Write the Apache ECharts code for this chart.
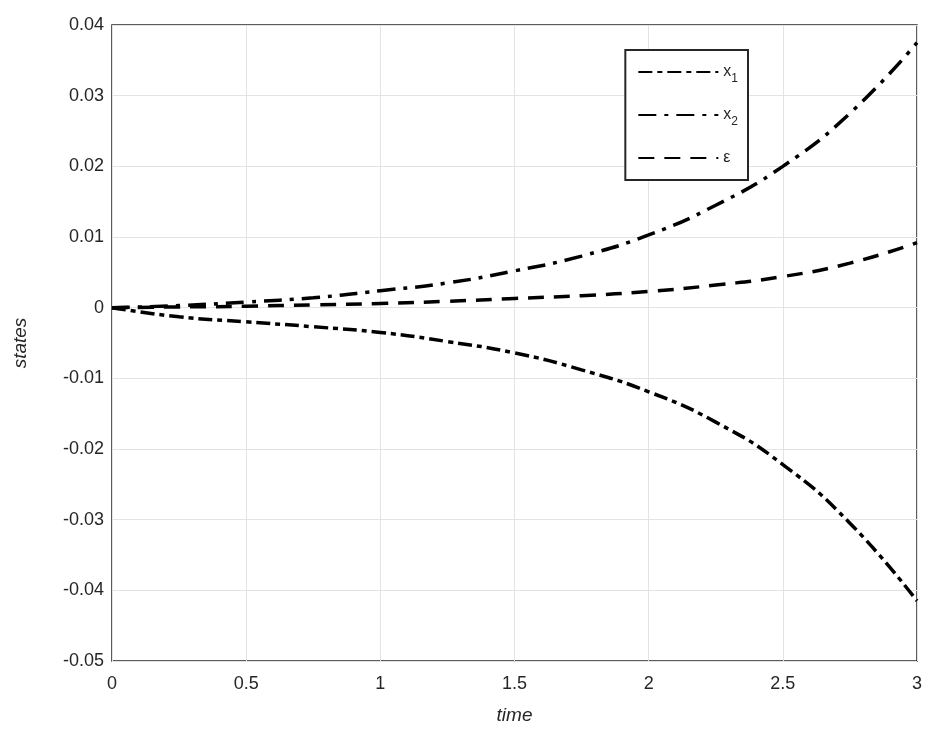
<!DOCTYPE html><html><head><meta charset="utf-8"><script src="https://cdn.jsdelivr.net/npm/echarts@6/dist/echarts.min.js"></script></head><body style="margin:0;background:#fff"><div id="c" style="width:937px;height:742px"></div><script>
const time=[0,0.25,0.5,0.75,1,1.25,1.5,1.75,2,2.25,2.5,2.75,3];
const x1=[0,-0.0013,-0.002,-0.0027,-0.0035,-0.0048,-0.0064,-0.0088,-0.0119,-0.0162,-0.0222,-0.0305,-0.0415];
const x2=[0,0.0003,0.0008,0.0014,0.0024,0.0035,0.0052,0.0073,0.0103,0.0145,0.0200,0.0275,0.0375];
const eps=[0,0.0001,0.0002,0.0004,0.0006,0.0009,0.0013,0.0017,0.0023,0.0032,0.0044,0.0063,0.0092];
const yTicks={'-0.05':'-0.05','-0.04':'-0.04','-0.03':'-0.03','-0.02':'-0.02','-0.01':'-0.01','0':'0','0.01':'0.01','0.02':'0.02','0.03':'0.03','0.04':'0.04'};
const pair=a=>time.map((t,i)=>[t,a[i]]);
const ax={color:'#262626',fontSize:18,fontFamily:'Liberation Sans, Arial'};
const mk=(name,d,dash)=>({name,type:'line',data:pair(d),smooth:true,symbol:'none',lineStyle:{color:'#000',width:3.5,type:dash},itemStyle:{color:'#000'}});
const ch=echarts.init(document.getElementById('c'));
ch.setOption({animation:false,
grid:{left:112,right:20,top:25,bottom:81,show:true,borderColor:'#262626',borderWidth:1.5},
legend:{right:189,top:50,orient:'vertical',borderColor:'#262626',borderWidth:2,padding:[14,10,14,12],itemWidth:80,itemHeight:14,itemGap:22,backgroundColor:'#fff',
 itemStyle:{opacity:0},
 textStyle:{fontSize:16,color:'#262626',fontFamily:'Liberation Sans, Arial',rich:{s:{fontSize:12,padding:[14,0,0,0],color:'#262626'}}},
 formatter:n=>n==='x1'?'x{s|1}':n==='x2'?'x{s|2}':'ε',
 data:['x1','x2','ε']},
xAxis:{type:'value',min:0,max:3,interval:0.5,name:'time',nameLocation:'middle',nameGap:45,nameTextStyle:{fontSize:19,fontStyle:'italic',color:'#262626'},
 axisLine:{show:false},axisTick:{show:false},axisLabel:{...ax,margin:14},splitLine:{lineStyle:{color:'#e3e3e3'}}},
yAxis:{type:'value',min:-0.05,max:0.04,interval:0.01,name:'states',nameLocation:'middle',nameGap:82,nameTextStyle:{fontSize:19,fontStyle:'italic',color:'#262626'},
 axisLine:{show:false},axisTick:{show:false},axisLabel:{...ax,formatter:v=>yTicks[String(+v.toFixed(2))]||''},splitLine:{lineStyle:{color:'#e3e3e3'}}},
series:[mk('x1',x1,[14,5,5,5]),mk('x2',x2,[18,8,4,8]),mk('ε',eps,[16,10])]});
</script></body></html>
